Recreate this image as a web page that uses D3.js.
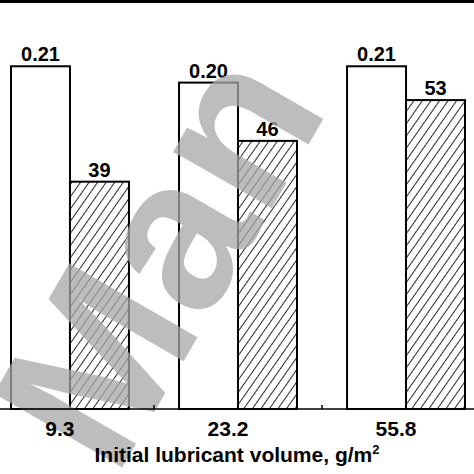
<!DOCTYPE html>
<html><head><meta charset="utf-8">
<script src="https://cdn.jsdelivr.net/npm/d3@7"></script>
<style>body{margin:0;background:#fff}svg{display:block}text{font-family:"Liberation Sans",Arial,sans-serif;font-weight:bold}</style>
</head><body><div id="chart"></div>
<script>
const categories = ["9.3", "23.2", "55.8"];
const friction = [0.21, 0.20, 0.21];
const frictionLabels = ["0.21", "0.20", "0.21"];
const secondSeries = [39, 46, 53];

const W = 474, H = 474, base = 409;
const svg = d3.select("#chart").append("svg").attr("width", W).attr("height", H);

const defs = svg.append("defs");
const pat = defs.append("pattern").attr("id", "hatch").attr("patternUnits", "userSpaceOnUse")
  .attr("width", 7).attr("height", 7).attr("patternTransform", "rotate(35)");
pat.append("rect").attr("width", 7).attr("height", 7).attr("fill", "#fff");
pat.append("line").attr("x1", 0).attr("y1", 0).attr("x2", 0).attr("y2", 7)
  .attr("stroke", "#111").attr("stroke-width", 1.8);

const x = d3.scaleBand().domain(categories).range([11, 465]).paddingInner(0.298).paddingOuter(0);
const sub = d3.scaleBand().domain(["a", "b"]).range([0, x.bandwidth()]);
const yL = d3.scaleLinear().domain([0, 0.25]).range([base, 1]);
const yR = d3.scaleLinear().domain([0, 70]).range([base, 1]);

// top frame line
svg.append("line").attr("x1", 0).attr("x2", W).attr("y1", 1.5).attr("y2", 1.5).attr("stroke", "#000").attr("stroke-width", 3);

const g = svg.selectAll("g.grp").data(categories).join("g").attr("transform", d => `translate(${x(d)},0)`);
g.append("rect").attr("x", sub("a")).attr("width", sub.bandwidth())
  .attr("y", (d, i) => yL(friction[i])).attr("height", (d, i) => base - yL(friction[i]))
  .attr("fill", "#fff").attr("stroke", "#000").attr("stroke-width", 2);
g.append("rect").attr("x", sub("b")).attr("width", sub.bandwidth())
  .attr("y", (d, i) => yR(secondSeries[i])).attr("height", (d, i) => base - yR(secondSeries[i]))
  .attr("fill", "url(#hatch)").attr("stroke", "#000").attr("stroke-width", 2);

// watermark (under the labels)
svg.append("text").attr("transform", "translate(115,480) rotate(-60)")
  .attr("font-size", 215).attr("font-weight", "normal").attr("fill", "#a8a8a8").attr("opacity", 0.75)
  .text("Man");

g.append("text").attr("x", sub("a") + sub.bandwidth() / 2).attr("y", (d, i) => yL(friction[i]) - 5)
  .attr("text-anchor", "middle").attr("font-size", 20).text((d, i) => frictionLabels[i]);
g.append("text").attr("x", sub("b") + sub.bandwidth() / 2).attr("y", (d, i) => yR(secondSeries[i]) - 5)
  .attr("text-anchor", "middle").attr("font-size", 20).text((d, i) => secondSeries[i]);

// baseline axis
svg.append("line").attr("x1", 0).attr("x2", W).attr("y1", base).attr("y2", base).attr("stroke", "#000").attr("stroke-width", 1.5);
[0, 1].forEach(i => {
  const mx = (x(categories[i]) + x.bandwidth() + x(categories[i + 1])) / 2;
  svg.append("line").attr("x1", mx).attr("x2", mx).attr("y1", base - 4).attr("y2", base).attr("stroke", "#000").attr("stroke-width", 1.5);
});
svg.selectAll("text.tick").data(categories).join("text").attr("class", "tick")
  .attr("x", d => x(d) + x.bandwidth() / 2 - 10).attr("y", 436).attr("text-anchor", "middle")
  .attr("font-size", 21).text(d => d);
const t = svg.append("text").attr("x", 237).attr("y", 462).attr("text-anchor", "middle").attr("font-size", 21);
t.append("tspan").text("Initial lubricant volume, g/m");
t.append("tspan").attr("dy", -8).attr("font-size", 13).text("2");
</script></body></html>
